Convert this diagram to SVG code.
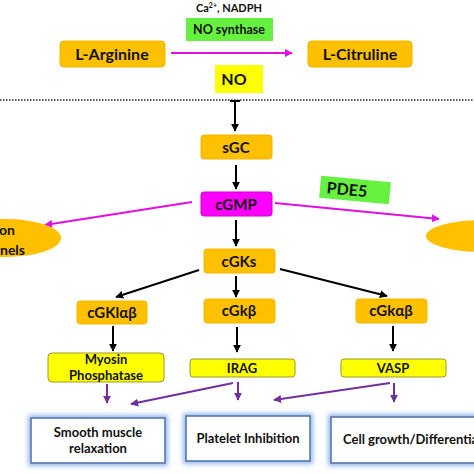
<svg xmlns="http://www.w3.org/2000/svg" width="474" height="474" viewBox="0 0 474 474">
<defs>
<style>
.t{font-family:Lato,"Open Sans","Liberation Sans",sans-serif;font-weight:bold;fill:#111;text-anchor:middle}
.or{fill:#FFC000;stroke:#F0B400;stroke-width:1}
.ye{fill:#FFFF00;stroke:#9A9A30;stroke-width:1}
.gr{fill:#66F040}
.bk{stroke:#000;stroke-width:2;fill:none}
.mg{stroke:#E010E0;stroke-width:2;fill:none}
.pu{stroke:#7030A0;stroke-width:2;fill:none}
.wb{fill:#fff;stroke:#4A6FA8;stroke-width:1.5;filter:url(#glow)}
</style>
<marker id="ab" viewBox="0 0 10 10" refX="9" refY="5" markerWidth="4" markerHeight="4" orient="auto"><path d="M0,0L10,5L0,10z" fill="#000"/></marker>
<marker id="am" viewBox="0 0 10 10" refX="9" refY="5" markerWidth="4" markerHeight="4" orient="auto"><path d="M0,0L10,5L0,10z" fill="#E010E0"/></marker>
<marker id="ap" viewBox="0 0 10 10" refX="9" refY="5" markerWidth="4" markerHeight="4" orient="auto"><path d="M0,0L10,5L0,10z" fill="#7030A0"/></marker>
<filter id="glow" x="-20%" y="-30%" width="140%" height="160%">
<feMorphology in="SourceAlpha" operator="dilate" radius="2" result="d"/>
<feGaussianBlur in="d" stdDeviation="2.5" result="b"/>
<feFlood flood-color="#8EB4E8"/>
<feComposite in2="b" operator="in" result="g"/>
<feMerge><feMergeNode in="g"/><feMergeNode in="SourceGraphic"/></feMerge>
</filter>
</defs>
<rect width="474" height="474" fill="#fff"/>

<g id="connectors">
<line class="mg" x1="171" y1="53" x2="292" y2="53" marker-end="url(#am)"/>
<line x1="0" y1="100" x2="474" y2="100" stroke="#222" stroke-width="1.5" stroke-dasharray="1.5,1.5"/>
<line x1="230" y1="101" x2="240" y2="101" stroke="#000" stroke-width="2"/>
<line class="bk" x1="235" y1="101" x2="235" y2="131" marker-end="url(#ab)"/>
<line class="bk" x1="236" y1="165" x2="236" y2="189" marker-end="url(#ab)"/>
<line class="bk" x1="236" y1="220" x2="236" y2="246" marker-end="url(#ab)"/>
<line class="mg" x1="192" y1="202" x2="45" y2="225" marker-end="url(#am)"/>
<line class="mg" x1="275" y1="203" x2="439" y2="219" marker-end="url(#am)"/>
<line class="bk" x1="199" y1="270" x2="116" y2="297" marker-end="url(#ab)"/>
<line class="bk" x1="236" y1="276" x2="236" y2="297" marker-end="url(#ab)"/>
<line class="bk" x1="280" y1="269" x2="387" y2="296" marker-end="url(#ab)"/>
<line class="bk" x1="113" y1="326" x2="113" y2="351" marker-end="url(#ab)"/>
<line class="bk" x1="237" y1="327" x2="237" y2="352" marker-end="url(#ab)"/>
<line class="bk" x1="393" y1="326" x2="393" y2="351" marker-end="url(#ab)"/>
<line class="pu" x1="107" y1="384" x2="107" y2="403" marker-end="url(#ap)"/>
<line class="pu" x1="233" y1="383" x2="131" y2="404" marker-end="url(#ap)"/>
<line class="pu" x1="238" y1="382" x2="238" y2="400" marker-end="url(#ap)"/>
<line class="pu" x1="390" y1="383" x2="274" y2="400" marker-end="url(#ap)"/>
<line class="pu" x1="394" y1="383" x2="394" y2="402" marker-end="url(#ap)"/>
</g>

<g id="cofactors"><text class="t" x="229" y="12" font-size="11">Ca<tspan font-size="7" dy="-4">2+</tspan><tspan dy="4">, NADPH</tspan></text></g>
<g id="nos"><rect class="gr" x="186" y="18" width="87" height="23"/><text class="t" x="229" y="34" font-size="12.5">NO synthase</text></g>
<g id="arginine"><rect class="or" x="60" y="41" width="105" height="26" rx="4"/><text class="t" x="112" y="60" font-size="16">L-Arginine</text></g>
<g id="citruline"><rect class="or" x="308" y="41" width="104" height="26" rx="4"/><text class="t" x="360" y="60" font-size="16">L-Citruline</text></g>
<g id="no"><rect x="215" y="65" width="48" height="28" fill="#FFFF00"/><text class="t" x="234" y="85" font-size="16">NO</text></g>
<g id="sgc"><rect class="or" x="201" y="135" width="71" height="24" rx="3"/><text class="t" x="236" y="153" font-size="15">sGC</text></g>
<g id="cgmp"><rect x="201" y="192" width="71" height="24" rx="3" fill="#FF00FF" stroke="#D000D0"/><text class="t" x="236" y="210" font-size="15" fill="#301040">cGMP</text></g>
<g id="pde5" transform="rotate(5.4 355 190)"><rect class="gr" x="320" y="179" width="70" height="22"/><text class="t" x="347" y="196" font-size="16">PDE5</text></g>
<g id="ion"><ellipse cx="5" cy="238" rx="56" ry="19" fill="#FFC000"/><text class="t" x="15" y="235" font-size="14" style="text-anchor:end">Ion</text><text class="t" x="25" y="255" font-size="14" style="text-anchor:end">Channels</text></g>
<g id="rightellipse"><ellipse cx="482" cy="236" rx="56" ry="16" fill="#FFC000"/></g>
<g id="cgks"><rect class="or" x="204" y="249" width="71" height="24" rx="3"/><text class="t" x="239" y="267" font-size="15">cGKs</text></g>
<g id="cgk1"><rect class="or" x="77" y="301" width="70" height="23" rx="3"/><text class="t" x="112" y="318" font-size="15">cGKlαβ</text></g>
<g id="cgkb"><rect class="or" x="204" y="299" width="71" height="24" rx="3"/><text class="t" x="239" y="316" font-size="15">cGkβ</text></g>
<g id="cgkab"><rect class="or" x="356" y="299" width="71" height="24" rx="3"/><text class="t" x="391" y="316" font-size="15">cGkαβ</text></g>
<g id="myosin"><rect class="ye" x="48" y="353" width="116" height="29" rx="4"/><text class="t" x="106" y="364" font-size="13">Myosin</text><text class="t" x="106" y="380" font-size="13">Phosphatase</text></g>
<g id="irag"><rect class="ye" x="190" y="359" width="105" height="18" rx="3"/><text class="t" x="242" y="372.5" font-size="13">IRAG</text></g>
<g id="vasp"><rect class="ye" x="341" y="359" width="105" height="18" rx="3"/><text class="t" x="393" y="372.5" font-size="13">VASP</text></g>
<g id="smooth"><rect class="wb" x="31" y="418" width="134" height="45"/><text class="t" x="98" y="437" font-size="13">Smooth muscle</text><text class="t" x="98" y="453" font-size="13">relaxation</text></g>
<g id="platelet"><rect class="wb" x="186" y="416" width="124" height="45"/><text class="t" x="248" y="443" font-size="13">Platelet Inhibition</text></g>
<g id="cell"><rect class="wb" x="331" y="417" width="150" height="46"/><text class="t" x="343" y="444" font-size="13" style="text-anchor:start">Cell growth/Differentiation</text></g>
</svg>
